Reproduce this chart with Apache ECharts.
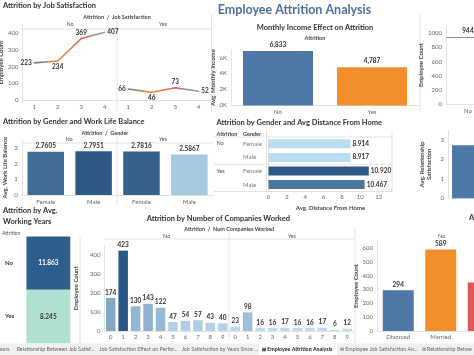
<!DOCTYPE html>
<html><head><meta charset="utf-8">
<script src="https://cdn.jsdelivr.net/npm/echarts@6/dist/echarts.min.js"></script>
<style>html,body{margin:0;padding:0;background:#fff}#c{width:474px;height:355px}</style>
</head><body><div id="c"></div>
<script>
// ---- data ----
const jobSatCategories = ['1','2','3','4'];
const jobSatNo = [223, 234, 369, 407];
const jobSatYes = [66, 46, 73, 52];
const attritionLabels = ['No', 'Yes'];
const incomeValues = [6833, 4787];
const empCountOverall = [944];
const genderCategories = ['Female', 'Male'];
const workLifeNo = [2.7605, 2.7951];
const workLifeYes = [2.7816, 2.5867];
const distanceNo = [8.914, 8.917];
const distanceYes = [10.920, 10.467];
const relSatValues = [2.73];
const workingYears = [11.863, 8.245];
const companiesCategories = ['0','1','2','3','4','5','6','7','8','9'];
const companiesNo = [174, 423, 130, 143, 122, 47, 54, 57, 43, 40];
const companiesYes = [23, 98, 16, 16, 17, 16, 16, 17, 6, 12];
const maritalCategories = ['Divorced', 'Married', 'Single'];
const maritalNo = [294, 589, 350];
const tabs = ['ears', 'Relationship Between Job Satisf...', 'Job Satisfaction Effect on Perfor...', 'Job Satisfaction by Years Since ...', '\u229E Employee Attrition Analysis', '\u229E Employee Job Satisfaction An...', '\u229E Relationship Betwe'];

// ---- styling helpers ----
const FF = 'Lato';
const AX = '#666';
const LINE = '#e3e3e3';
const lbl = {fontSize: 6.5, fontWeight: 'bold', color: '#333', fontFamily: FF};
const axLabel = {fontSize: 6, color: AX, fontFamily: FF};
const nameStyle = {fontSize: 6, color: '#444', fontWeight: 'bold', fontFamily: FF};
function hideNon(step) { return v => (Math.abs(v / step - Math.round(v / step)) < 1e-6 ? v : ''); }
function seq(lo, hi, c0, c1) {
  const a = [parseInt(c0.slice(1,3),16), parseInt(c0.slice(3,5),16), parseInt(c0.slice(5,7),16)];
  const b = [parseInt(c1.slice(1,3),16), parseInt(c1.slice(3,5),16), parseInt(c1.slice(5,7),16)];
  return p => {
    const v = Array.isArray(p.value) ? p.value[p.value.length - 1] : p.value;
    const t = Math.max(0, Math.min(1, (v - lo) / (hi - lo)));
    return 'rgb(' + a.map((x, i) => Math.round(x + (b[i] - x) * t)).join(',') + ')';
  };
}

const chart = echarts.init(document.getElementById('c'), null, {renderer: 'canvas'});

const grids = [
  {left: 22.5, top: 25, width: 188, height: 75},        // 0 job sat
  {left: 231, top: 49.6, width: 188, height: 55.9},     // 1 income
  {left: 446, top: 26.2, width: 88, height: 77.8},      // 2 right top
  {left: 21.8, top: 140.2, width: 191.5, height: 54.8}, // 3 work life
  {left: 268.5, top: 137, width: 124, height: 54.4},    // 4 distance
  {left: 448, top: 130.4, width: 120, height: 67.9},    // 5 rel sat
  {left: 26.7, top: 236.7, width: 43.3, height: 106.3}, // 6 working years
  {left: 104.5, top: 245.5, width: 249, height: 85.5},  // 7 companies
  {left: 377, top: 241, width: 127.5, height: 89.9}     // 8 marital
].map(g => Object.assign({outerBoundsMode: 'none', containLabel: false}, g));

function catX(gi, data, extra) {
  return Object.assign({type: 'category', gridIndex: gi, data: data,
    axisLine: {lineStyle: {color: LINE}}, axisTick: {show: false},
    axisLabel: Object.assign({margin: 4, interval: 0}, axLabel)}, extra || {});
}
function valY(gi, max, step, extra) {
  return Object.assign({type: 'value', gridIndex: gi, min: 0, max: max, interval: step,
    axisLine: {show: true, lineStyle: {color: LINE}}, axisTick: {show: false},
    splitLine: {show: false},
    axisLabel: Object.assign({margin: 4, formatter: hideNon(step)}, axLabel),
    nameLocation: 'middle', nameRotate: 90, nameTextStyle: nameStyle}, extra || {});
}

const xAxes = [
  catX(0, jobSatCategories.concat(jobSatCategories)),
  catX(1, attritionLabels),
  catX(2, attritionLabels),
  catX(3, genderCategories.concat(genderCategories)),
  {type: 'value', gridIndex: 4, min: 0, max: 13.5, interval: 2,
    axisLine: {show: false}, axisTick: {show: false}, splitLine: {show: false},
    axisLabel: Object.assign({margin: 3, formatter: hideNon(2)}, axLabel),
    name: 'Avg. Distance From Home', nameLocation: 'middle', nameGap: 14, nameTextStyle: nameStyle},
  catX(5, attritionLabels),
  {type: 'category', gridIndex: 6, data: [''], show: false},
  catX(7, companiesCategories.concat(companiesCategories), {axisLabel: Object.assign({margin: 3, interval: 0}, axLabel)}),
  catX(8, maritalCategories, {axisLabel: Object.assign({margin: 3, interval: 0}, axLabel)})
];

const yAxes = [
  valY(0, 450, 100, {name: 'Employee Count', nameGap: 14}),
  valY(1, 7000, 2000, {name: 'Avg. Monthly Income', nameGap: 15,
    axisLabel: Object.assign({margin: 4, formatter: v => (v % 2000 === 0 ? (v / 1000) + 'K' : '')}, axLabel)}),
  valY(2, 1100, 200, {name: 'Employee Count', nameGap: 20}),
  valY(3, 3.5, 1, {name: 'Avg. Work Life Balance', nameGap: 14}),
  {type: 'category', gridIndex: 4, inverse: true,
    data: genderCategories.concat(genderCategories),
    axisLine: {lineStyle: {color: LINE}}, axisTick: {show: false},
    axisLabel: Object.assign({margin: 25.5, align: 'left'}, axLabel, {color: '#777'})},
  valY(5, 3.5, 1, {name: 'Avg. Relationship\nSatisfaction', nameGap: 15, nameTextStyle: Object.assign({}, nameStyle, {lineHeight: 7})}),
  {type: 'category', gridIndex: 6, inverse: true, data: attritionLabels,
    axisLine: {show: false}, axisTick: {show: false},
    axisLabel: {margin: 21.7, align: 'left', fontSize: 6, fontWeight: 'bold', color: '#333', fontFamily: FF}},
  valY(7, 450, 100, {name: 'Employee Count', nameGap: 15}),
  valY(8, 650, 100, {name: 'Employee Count', nameGap: 15})
];

const jsPos = ['left', 'bottom', 'top', 'right'];
const jsGrad = () => new echarts.graphic.LinearGradient(0, 0, 1, 0, [
  {offset: 0, color: '#4e79a7'}, {offset: 0.33, color: '#f28e2b'},
  {offset: 0.67, color: '#e15759'}, {offset: 1, color: '#76b7b2'}]);
function jsSeries(vals, offset) {
  const data = [];
  for (let i = 0; i < 8; i++) {
    const k = i - offset;
    if (k >= 0 && k < vals.length) data.push({value: vals[k], label: {position: jsPos[k]}});
    else data.push('-');
  }
  return {type: 'line', xAxisIndex: 0, yAxisIndex: 0, data: data, symbol: 'circle', symbolSize: 1,
    lineStyle: {width: 1.6, color: jsGrad()}, itemStyle: {color: '#777'},
    label: Object.assign({show: true, distance: 2}, lbl), silent: true};
}

const barColors3 = ['#4e79a7', '#f28e2b', '#e15759'];
const wyColors = ['#2d5d8b', '#b0e0cf'];
const wyText = ['#fff', '#333'];
const LIGHT = '#b9ddf1', DARK = '#2a5783';

const series = [
  jsSeries(jobSatNo, 0),
  jsSeries(jobSatYes, 4),
  {type: 'bar', xAxisIndex: 1, yAxisIndex: 1, barWidth: 70,
    data: incomeValues.map((v, i) => ({value: v, itemStyle: {color: barColors3[i]}})),
    label: Object.assign({show: true, position: 'top', distance: 3, formatter: p => p.value.toLocaleString('en-US')}, lbl)},
  {type: 'line', xAxisIndex: 2, yAxisIndex: 2, data: empCountOverall, symbol: 'circle', symbolSize: 1, showSymbol: true,
    itemStyle: {color: '#7b98b8'},
    label: Object.assign({show: true, position: 'top', distance: 2}, lbl),
    markLine: {symbol: 'none', silent: true, label: {show: false},
      lineStyle: {type: 'solid', color: '#7b98b8', width: 1.2},
      data: [{yAxis: empCountOverall[0]}]}},
  {type: 'bar', xAxisIndex: 3, yAxisIndex: 3, barWidth: 36.5,
    data: workLifeNo.concat(workLifeYes), itemStyle: {color: seq(2.55, 2.80, LIGHT, DARK)},
    label: Object.assign({show: true, position: 'top', distance: 2, formatter: p => p.value.toFixed(4)}, lbl)},
  {type: 'bar', xAxisIndex: 4, yAxisIndex: 4, barWidth: 9,
    data: distanceNo.concat(distanceYes), itemStyle: {color: seq(8.9, 10.95, LIGHT, DARK)},
    label: Object.assign({show: true, position: 'right', distance: 2, formatter: p => p.value.toFixed(3)}, lbl)},
  {type: 'bar', xAxisIndex: 5, yAxisIndex: 5, barWidth: 52,
    data: [relSatValues[0], '-'], itemStyle: {color: '#4e79a7'}},
  {type: 'heatmap', xAxisIndex: 6, yAxisIndex: 6,
    data: workingYears.map((v, i) => ({value: [0, i, v], itemStyle: {color: wyColors[i]},
      label: {color: wyText[i]}})),
    label: {show: true, fontSize: 6.5, fontWeight: 'bold', fontFamily: FF, formatter: p => p.value[2].toFixed(3)}},
  {type: 'bar', xAxisIndex: 7, yAxisIndex: 7, barWidth: 9.5,
    data: companiesNo.concat(companiesYes), itemStyle: {color: seq(0, 423, '#c2e0f4', DARK)},
    label: Object.assign({show: true, position: 'top', distance: 2}, lbl)},
  {type: 'bar', xAxisIndex: 8, yAxisIndex: 8, barWidth: 31,
    data: maritalNo.map((v, i) => ({value: v, itemStyle: {color: barColors3[i]}})),
    label: Object.assign({show: true, position: 'top', distance: 2}, lbl)}
];

function T(x, y, text, o) {
  return {type: 'text', x: x, y: y, silent: true, style: Object.assign({text: text, fontFamily: FF, fontSize: 5.5,
    fill: '#555', textAlign: 'left', textVerticalAlign: 'middle'}, o || {})};
}
function L(x1, y1, x2, y2, c) {
  return {type: 'line', silent: true, shape: {x1: x1, y1: y1, x2: x2, y2: y2}, style: {stroke: c || LINE, lineWidth: 1}};
}
const TB = {fontSize: 7.5, fontWeight: 'bold', fill: '#333'};
const graphics = [
  // separators
  L(22.5, 29, 211, 29), L(117, 20, 117, 112), L(211.5, 14, 211.5, 112), L(420, 14, 420, 112),
  L(22, 143, 213, 143), L(117, 136, 117, 206),
  L(214, 137, 392, 137), L(214, 164.3, 392, 164.3), L(214, 191.5, 392, 191.5), L(392, 130, 392, 192), L(266.5, 130, 266.5, 192),
  L(80, 237, 80, 343), L(104.5, 239, 354, 239), L(229, 232, 229, 338), L(355, 228, 355, 343),
  // titles
  T(294.5, 10, 'Employee Attrition Analysis', {fontSize: 12.5, fontWeight: 'bold', fill: '#4e6fa0', textAlign: 'center'}),
  T(3, 6, 'Attrition by Job Satisfaction', TB),
  T(117, 17.7, 'Attrition  /  Job Satisfaction', {fontWeight: 'bold', fill: '#444', textAlign: 'center'}),
  T(70, 24, 'No', {textAlign: 'center'}), T(163, 24, 'Yes', {textAlign: 'center'}),
  T(315, 27.3, 'Monthly Income Effect on Attrition', Object.assign({}, TB, {textAlign: 'center'})),
  T(315, 38.3, 'Attrition', {fontWeight: 'bold', fill: '#444', textAlign: 'center'}),
  T(3, 121.7, 'Attrition by Gender and Work Life Balance', TB),
  T(105, 133, 'Attrition  /  Gender', {fontWeight: 'bold', fill: '#444', textAlign: 'center'}),
  T(69, 139, 'No', {textAlign: 'center'}), T(163, 139, 'Yes', {textAlign: 'center'}),
  T(216.5, 122.7, 'Attrition by Gender and Avg Distance From Home', TB),
  T(216.5, 134, 'Attrition', {fontWeight: 'bold', fill: '#444'}), T(243, 134, 'Gender', {fontWeight: 'bold', fill: '#444'}),
  T(216.5, 143.5, 'No', {fill: '#555'}), T(216.5, 171, 'Yes', {fill: '#555'}),
  T(3, 211, 'Attrition by Avg.', TB), T(3, 221.5, 'Working Years', TB),
  T(2, 233.3, 'Attrition', {fontSize: 5, fill: '#555'}),
  T(218.3, 218.3, 'Attrition by Number of Companies Worked', Object.assign({}, TB, {textAlign: 'center'})),
  T(229.3, 229.3, 'Attrition  /  Num Companies Worked', {fontWeight: 'bold', fill: '#444', textAlign: 'center'}),
  T(166.7, 236, 'No', {textAlign: 'center'}), T(291.7, 236, 'Yes', {textAlign: 'center'}),
  T(469, 217.5, 'Attrition by Marital Status', TB),
  T(441.7, 236.7, 'No', {textAlign: 'center'}),
  // tab bar
  {type: 'rect', silent: true, shape: {x: 0, y: 343.5, width: 474, height: 12}, style: {fill: '#f0f0f0'}},
  {type: 'rect', silent: true, shape: {x: 259, y: 343.5, width: 78, height: 12}, style: {fill: '#ffffff'}}
];
const tabX = [0, 16.7, 99.3, 181.7, 262, 340, 421.7];
tabs.forEach((t, i) => graphics.push(T(tabX[i], 349.5, t, {fontSize: 5.3, fill: i === 4 ? '#222' : '#666', fontWeight: i === 4 ? 'bold' : 'normal'})));

chart.setOption({
  backgroundColor: '#ffffff',
  animation: false,
  textStyle: {fontFamily: FF},
  grid: grids, xAxis: xAxes, yAxis: yAxes, series: series,
  graphic: {elements: graphics}
});
</script></body></html>
